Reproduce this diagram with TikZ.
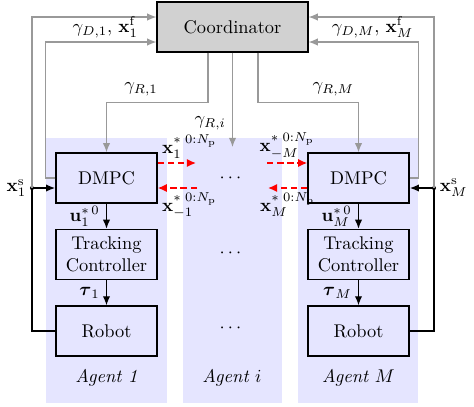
\documentclass[tikz,border=0pt]{standalone}
\usepackage{amsmath, amssymb}
\usetikzlibrary{positioning, arrows.meta, calc}

\begin{document}
\begin{tikzpicture}[x=0.0191cm, y=-0.0191cm,
  block/.style={draw, thick, minimum width=1.93cm, minimum height=0.955cm, align=center},
  agentbg/.style={fill=blue!10, draw=none},
  link/.style={-{Latex[length=5pt, width=4pt]}, thick},
  info/.style={-{Latex[length=5pt, width=4pt]}, semithick, black!40, text=black},
  share/.style={-{Latex[length=5pt, width=4.5pt]}, thick, red, text=black, dash pattern=on 3.5pt off 2pt}]
  \useasboundingbox (0,0) rectangle (474,406);

  % agent areas
  \fill[agentbg] (46,138) rectangle (167,403);
  \fill[agentbg] (183,138) rectangle (282,403);
  \fill[agentbg] (298,138) rectangle (418,403);

  \node[block, fill=black!18, minimum width=2.88cm] (coord) at (232.5,27) {Coordinator};

  % agent 1
  \node[block] (dmpc1) at (106.5,178) {DMPC};
  \node[block] (track1) [below=0.48cm of dmpc1] {Tracking\\Controller};
  \node[block] (robot1) [below=0.48cm of track1] {Robot};
  \node (agent1) at (106.5,378) {\textit{Agent 1}};

  % agent i
  \node (dotsa) at (232,178) {$\cdots$};
  \node (dotsb) at (232,253) {$\cdots$};
  \node (dotsc) at (232,328) {$\cdots$};
  \node (agenti) at (232,378) {\textit{Agent $i$}};

  % agent M
  \node[block] (dmpcM) at (358.5,178) {DMPC};
  \node[block] (trackM) [below=0.48cm of dmpcM] {Tracking\\Controller};
  \node[block] (robotM) [below=0.48cm of trackM] {Robot};
  \node (agentM) at (358.5,378) {\textit{Agent $M$}};

  \draw[link] (dmpc1) -- node[left] {$\mathbf{u}_1^{*\,0}$} (track1);
  \draw[link] (track1) -- node[left] {$\boldsymbol{\tau}_1$} (robot1);
  \draw[link] (dmpcM) -- node[left] {$\mathbf{u}_M^{*\,0}$} (trackM);
  \draw[link] (trackM) -- node[left] {$\boldsymbol{\tau}_M$} (robotM);

  % state feedback
  \coordinate (s1) at (32,188);
  \coordinate (sM) at (434,188);
  \draw[thick] (robot1.west) -| (s1);
  \draw[link] (s1) -- ($(dmpc1.west)+(0,10)$);
  \draw[thick] (robotM.east) -| (sM);
  \draw[link] (sM) -- ($(dmpcM.east)+(0,10)$);
  \fill (s1) circle (1.1pt);
  \fill (sM) circle (1.1pt);
  \node[left=2pt of s1, inner sep=1pt] (xs1) {$\mathbf{x}_1^{\mathrm{s}}$};
  \node[right=2pt of sM, inner sep=1pt] (xsM) {$\mathbf{x}_M^{\mathrm{s}}$};

  % to the coordinator
  \draw[info] (s1) |- ($(coord.west)+(0,-10)$);
  \draw[info] (sM) |- ($(coord.east)+(0,-10)$);
  \draw[info] (dmpc1.west) -- ++(-10,0)
    |- node[pos=0.77, above, inner sep=2pt] {$\gamma_{D,1},\,\mathbf{x}_1^{\mathrm{f}}$} ($(coord.west)+(0,15)$);
  \draw[info] (dmpcM.east) -- ++(9,0)
    |- node[pos=0.71, above, inner sep=2pt] {$\gamma_{D,M},\,\mathbf{x}_M^{\mathrm{f}}$} ($(coord.east)+(0,15)$);

  % from the coordinator
  \coordinate (ri) at (232.5,147);
  \draw[info] ($(coord.south)+(-24.5,0)$) -- ++(0,50)
    -| node[pos=0.33, above] {$\gamma_{R,1}$} (dmpc1.north);
  \draw[info] (coord.south) -- node[pos=0.75, left] {$\gamma_{R,i}$} (ri);
  \draw[info] ($(coord.south)+(25.5,0)$) -- ++(0,50)
    -| node[pos=0.375, above] {$\gamma_{R,M}$} (dmpcM.north);

  % shared trajectories
  \coordinate (out1) at (196,163);
  \coordinate (in1) at (197,188);
  \coordinate (inM) at (267,163);
  \coordinate (outM) at (268,188);
  \draw[share] ($(dmpc1.east)+(0,-15)$) -- node[pos=0, above right, inner sep=2pt] {$\mathbf{x}_1^{*\;0:N_{\mathrm{p}}}$} (out1);
  \draw[share] (in1) -- node[pos=1, below right, inner sep=2pt] {$\mathbf{x}_{-1}^{*\;0:N_{\mathrm{p}}}$} ($(dmpc1.east)+(0,10)$);
  \draw[share] (inM) -- node[above, inner sep=2pt] {$\mathbf{x}_{-M}^{*\;0:N_{\mathrm{p}}}$} ($(dmpcM.west)+(0,-15)$);
  \draw[share] ($(dmpcM.west)+(0,10)$) -- node[below, inner sep=2pt] {$\mathbf{x}_M^{*\;0:N_{\mathrm{p}}}$} (outM);
\end{tikzpicture}
\end{document}
